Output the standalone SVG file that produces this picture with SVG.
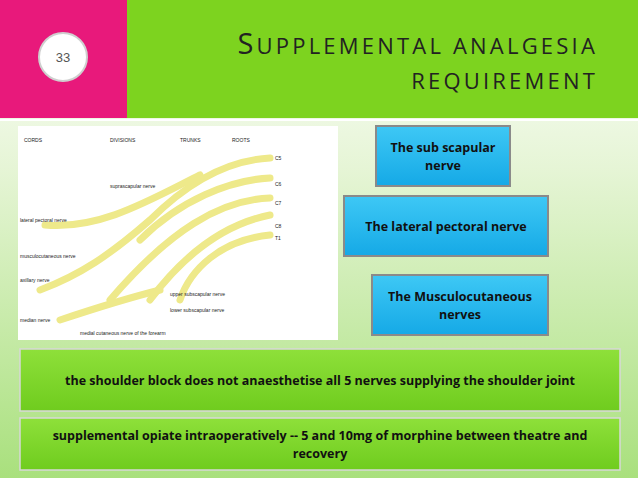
<svg xmlns="http://www.w3.org/2000/svg" width="638" height="478" viewBox="0 0 638 478">
<defs>
<linearGradient id="bg" x1="0" y1="0" x2="0" y2="1"><stop offset="0" stop-color="#ffffff"/><stop offset="0.35" stop-color="#e6f5d6"/><stop offset="1" stop-color="#a9e07d"/></linearGradient>
<linearGradient id="blue" x1="0" y1="0" x2="0" y2="1"><stop offset="0" stop-color="#3ec8f5"/><stop offset="1" stop-color="#15a9e6"/></linearGradient>
<linearGradient id="grn" x1="0" y1="0" x2="0" y2="1"><stop offset="0" stop-color="#8ee03a"/><stop offset="1" stop-color="#6fcc1e"/></linearGradient>
<style>
.b{fill:url(#blue);stroke:#8a8a8a;stroke-width:2}
.g{fill:url(#grn);stroke:#d8d8d8;stroke-width:1.5}
.t{font-family:"Open Sans","Liberation Sans",sans-serif;font-weight:bold;font-size:12.5px;fill:#111;text-anchor:middle}
.n{stroke:#eee98a;stroke-width:7;fill:none;stroke-linecap:round}
.s{font-family:"Liberation Sans",sans-serif;font-size:5px;fill:#222}
</style>
</defs>
<rect width="638" height="478" fill="url(#bg)"/>
<rect x="0" y="0" width="127" height="118" fill="#e8197b"/>
<rect x="127" y="0" width="511" height="118" fill="#7dd31f"/>
<rect x="0" y="119" width="638" height="2" fill="#ffffff"/>
<g id="badge"><circle cx="63" cy="57" r="24" fill="#fff" stroke="#cfcfcf" stroke-width="2"/>
<text x="63" y="62" text-anchor="middle" font-family="Liberation Sans,sans-serif" font-size="13" fill="#555">33</text></g>
<g id="title" font-family="Open Sans,Liberation Sans,sans-serif" fill="#222" text-anchor="end">
<text x="598" y="54" font-size="29" letter-spacing="3.2">S<tspan font-size="22">UPPLEMENTAL ANALGESIA</tspan></text>
<text x="598" y="89" font-size="22" letter-spacing="3.2">REQUIREMENT</text></g>
<g id="plexus">
<rect x="18" y="126" width="320" height="214" fill="#ffffff"/>
<text class="s" x="24" y="142">CORDS</text><text class="s" x="110" y="142">DIVISIONS</text><text class="s" x="180" y="142">TRUNKS</text><text class="s" x="232" y="142">ROOTS</text>
<path class="n" d="M270 158 C230 160 190 180 150 220 C110 255 80 275 40 290"/>
<path class="n" d="M270 178 C230 180 180 200 140 240"/>
<path class="n" d="M270 198 C220 200 170 230 110 300"/>
<path class="n" d="M270 215 C220 225 180 260 150 300"/>
<path class="n" d="M270 235 C220 240 190 270 180 300"/>
<path class="n" d="M200 175 C150 200 100 230 45 225"/>
<path class="n" d="M160 290 C120 300 90 310 60 320"/>
<text class="s" x="110" y="188">suprascapular nerve</text><text class="s" x="20" y="222">lateral pectoral nerve</text>
<text class="s" x="20" y="258">musculocutaneous nerve</text><text class="s" x="20" y="282">axillary nerve</text>
<text class="s" x="20" y="322">median nerve</text><text class="s" x="170" y="296">upper subscapular nerve</text>
<text class="s" x="170" y="312">lower subscapular nerve</text><text class="s" x="80" y="335">medial cutaneous nerve of the forearm</text>
<text class="s" x="275" y="160">C5</text><text class="s" x="275" y="186">C6</text><text class="s" x="275" y="205">C7</text><text class="s" x="275" y="228">C8</text><text class="s" x="275" y="240">T1</text>
</g>
<g id="n1"><rect class="b" x="376" y="126" width="134" height="60"/><text class="t" x="443" y="152">The sub scapular</text><text class="t" x="443" y="170">nerve</text></g>
<g id="n2"><rect class="b" x="344" y="196" width="204" height="60"/><text class="t" x="446" y="231">The lateral pectoral nerve</text></g>
<g id="n3"><rect class="b" x="372" y="275" width="176" height="60"/><text class="t" x="460" y="301">The Musculocutaneous</text><text class="t" x="460" y="319">nerves</text></g>
<g id="n4"><rect class="g" x="20" y="349" width="600" height="62"/><text class="t" x="320" y="385">the shoulder block does not anaesthetise all 5 nerves supplying the shoulder joint</text></g>
<g id="n5"><rect class="g" x="20" y="418" width="600" height="52"/><text class="t" x="320" y="440">supplemental opiate intraoperatively -- 5 and 10mg of morphine between theatre and</text><text class="t" x="320" y="458">recovery</text></g>
<g id="connectors"/>
</svg>
